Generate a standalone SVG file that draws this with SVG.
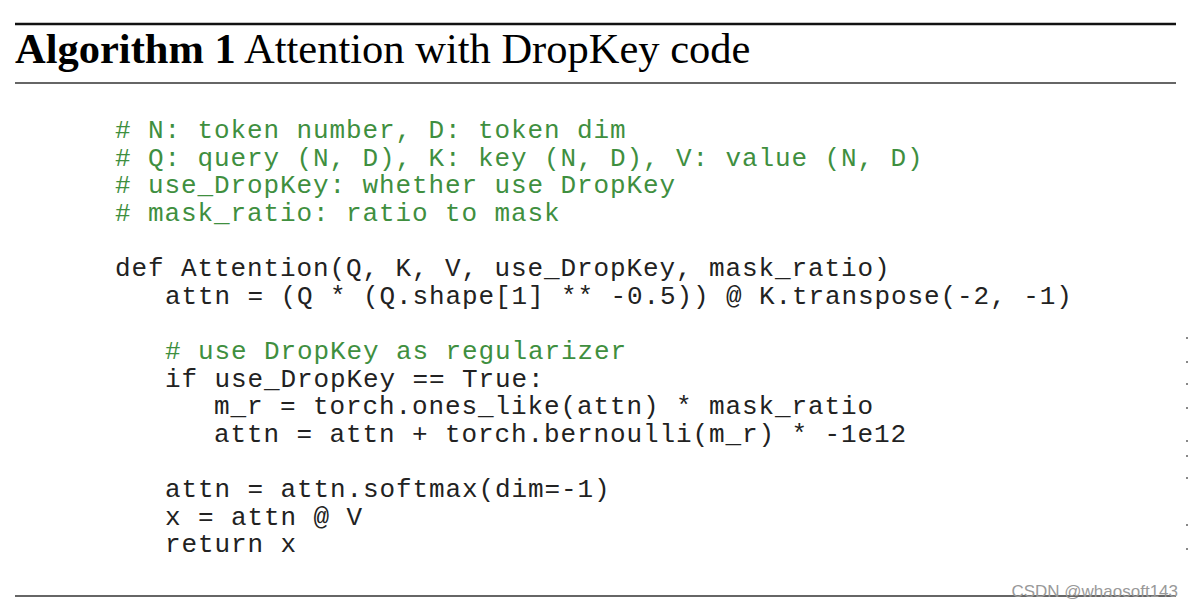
<svg xmlns="http://www.w3.org/2000/svg" width="1193" height="607" viewBox="0 0 1193 607">
<style>
.c{font-family:"Liberation Mono",monospace;font-size:26px;letter-spacing:0.9px;fill:#222;white-space:pre}
.g{fill:#3f8f3f}
.t{font-family:"Liberation Serif",serif;font-size:42.5px;fill:#000}
</style>
<rect width="1193" height="607" fill="#fff"/>
<line x1="15" y1="24" x2="1176" y2="24" stroke="#111" stroke-width="2.5"/>
<line x1="15" y1="83" x2="1176" y2="83" stroke="#333" stroke-width="1.3"/>
<line x1="15" y1="596" x2="1176" y2="596" stroke="#333" stroke-width="1.5"/>
<text class="t" x="15" y="63"><tspan font-weight="bold">Algorithm 1</tspan> Attention with DropKey code</text>
<text class="c g" x="115" y="138"># N: token number, D: token dim</text>
<text class="c g" x="115" y="166"># Q: query (N, D), K: key (N, D), V: value (N, D)</text>
<text class="c g" x="115" y="193"># use_DropKey: whether use DropKey</text>
<text class="c g" x="115" y="221"># mask_ratio: ratio to mask</text>
<text class="c" x="115" y="276">def Attention(Q, K, V, use_DropKey, mask_ratio)</text>
<text class="c" x="165" y="304">attn = (Q * (Q.shape[1] ** -0.5)) @ K.transpose(-2, -1)</text>
<text class="c g" x="165" y="359"># use DropKey as regularizer</text>
<text class="c" x="165" y="387">if use_DropKey == True:</text>
<text class="c" x="214" y="414">m_r = torch.ones_like(attn) * mask_ratio</text>
<text class="c" x="214" y="442">attn = attn + torch.bernoulli(m_r) * -1e12</text>
<text class="c" x="165" y="497">attn = attn.softmax(dim=-1)</text>
<text class="c" x="165" y="525">x = attn @ V</text>
<text class="c" x="165" y="552">return x</text>
<g fill="#888">
<rect x="1186" y="337" width="2" height="2"/><rect x="1186" y="361" width="2" height="2"/><rect x="1186" y="383" width="2" height="2"/><rect x="1186" y="407" width="2" height="2"/><rect x="1186" y="440" width="2" height="2"/><rect x="1186" y="455" width="2" height="2"/><rect x="1186" y="477" width="2" height="2"/><rect x="1186" y="524" width="2" height="2"/><rect x="1186" y="548" width="2" height="2"/>
</g>
<text x="1178" y="597" text-anchor="end" font-family="Liberation Sans,sans-serif" font-size="17" fill="#999">CSDN @whaosoft143</text>
</svg>
